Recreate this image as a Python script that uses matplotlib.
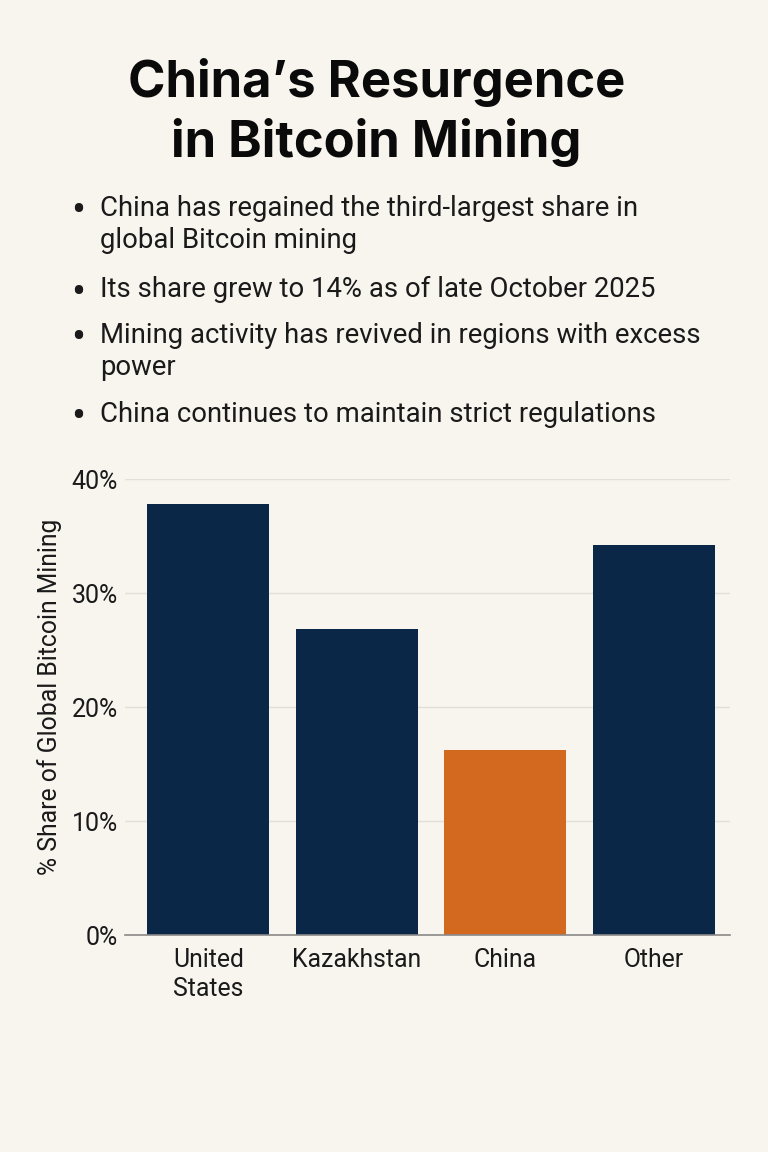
import matplotlib.pyplot as plt

# data
countries = ["United\nStates", "Kazakhstan", "China", "Other"]
shares = [37.8, 26.9, 16.3, 34.2]
highlight = "China"
yticks = [0, 10, 20, 30, 40]

title_lines = ["China\u2019s Resurgence", "in Bitcoin Mining"]
bullets = [
    ["China has regained the third-largest share in", "global Bitcoin mining"],
    ["Its share grew to 14% as of late October 2025"],
    ["Mining activity has revived in regions with excess", "power"],
    ["China continues to maintain strict regulations"],
]
ylabel = "% Share of Global Bitcoin Mining"

BG = "#F8F4EE"
NAVY = "#0B2748"
ORANGE = "#D2691F"
INK = "#1A1A1A"
H = 1152.0

plt.rcParams['font.family'] = ['Roboto', 'DejaVu Sans']

fig = plt.figure(figsize=(7.68, 11.52), dpi=100, facecolor=BG)

# title, baselines in pixels from top
for line, yb in zip(title_lines, [97, 157]):
    fig.text(0.49, 1 - yb / H, line, ha="center", va="baseline", fontsize=36.5,
             fontweight="bold", family=['Inter', 'DejaVu Sans'], color="#0A0A0A")

# bullet list, baselines in pixels from top
baselines = [[216, 248], [297], [343, 375], [422]]
for lines, ybs in zip(bullets, baselines):
    fig.text(0.102, 1 - (ybs[0] - 4) / H, "\u2022", ha="center", va="center",
             fontsize=30, color=INK)
    for line, yb in zip(lines, ybs):
        fig.text(0.130, 1 - yb / H, line, ha="left", va="baseline",
                 fontsize=19.8, color=INK)

ax = fig.add_axes([0.163, 0.188, 0.787, 0.396])
ax.set_facecolor(BG)
x = range(len(countries))
colors = [ORANGE if c == highlight else NAVY for c in countries]
ax.bar(x, shares, width=0.82, color=colors, zorder=3)

ax.set_ylim(0, 40)
ax.set_xlim(-0.56, 3.51)
ax.set_yticks(yticks)
ax.set_yticklabels([f"{t}%" for t in yticks], fontsize=18, color=INK)
ax.set_xticks(list(x))
ax.set_xticklabels(countries, fontsize=17.8, color=INK, linespacing=1.25)
ax.tick_params(axis="y", length=0, pad=5)
ax.tick_params(axis="x", length=0, pad=9)
ax.grid(axis="y", color="#E2DED8", linewidth=1, zorder=0)
for s in ["top", "right", "left"]:
    ax.spines[s].set_visible(False)
ax.spines["bottom"].set_color("#8A8A8A")
ax.spines["bottom"].set_linewidth(1.2)
ax.spines["bottom"].set_zorder(4)
ax.set_ylabel(ylabel, fontsize=17.8, color=INK)
ax.yaxis.set_label_coords(-0.104, 0.522)

fig.savefig("out.png", dpi=100, facecolor=BG)
